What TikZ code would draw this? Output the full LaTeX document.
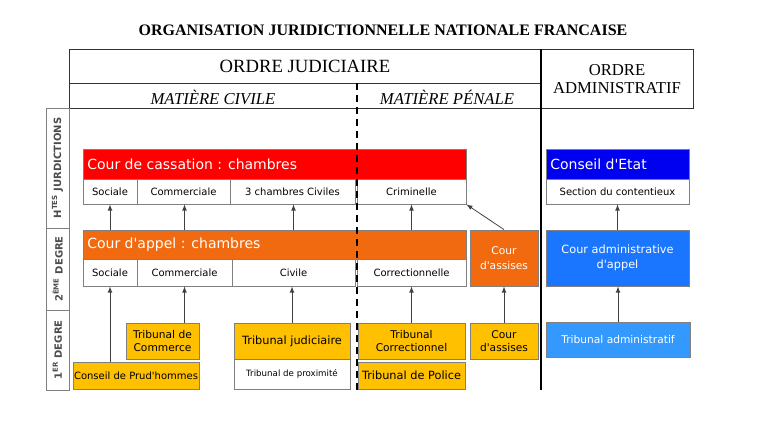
\documentclass[tikz,border=0pt]{standalone}
\usepackage{fontspec}
\setmainfont{Liberation Serif}
\newfontfamily\vf{DejaVu Sans}
\definecolor{cred}{HTML}{FF0000}
\definecolor{corg}{HTML}{F26A10}
\definecolor{cyel}{HTML}{FFC000}
\definecolor{cblu}{HTML}{0000F0}
\definecolor{cblu2}{HTML}{1A75FF}
\definecolor{cblu3}{HTML}{3399FF}
\definecolor{cgr}{HTML}{808080}
% \bxn[style]{name}{x1}{y1}{x2}{y2}{text}
\newcommand\bxn[7][]{\node[bx,#1,minimum width={(#5-#3)*0.75pt},minimum height={(#6-#4)*0.75pt}] (#2) at ({(#3+#5)/2},{(#4+#6)/2}) {#7};}
\begin{document}
\begin{tikzpicture}[x=0.75pt,y=-0.75pt,
  bx/.style={draw=cgr,line width=0.6pt,inner sep=0pt,font=\vf\fontsize{7.5}{9}\selectfont,align=center},
  redb/.style={fill=cred},
  orgb/.style={fill=corg,text=white},
  yelb/.style={fill=cyel,text=black},
  head/.style={font=\vf\fontsize{10.5}{12}\selectfont,text=white,anchor=west},
  arr/.style={draw=black!75,line width=0.6pt,-latex},
  side/.style={font=\vf\bfseries\fontsize{7.5}{9}\selectfont,text=black!70,rotate=90}]
\useasboundingbox (0,0) rectangle (768,433);
\node[font=\bfseries\fontsize{12}{14}\selectfont] (title) at (383,30) {ORGANISATION JURIDICTIONNELLE NATIONALE FRANCAISE};
% header
\draw[black!80,line width=0.6pt] (69,49) rectangle (693,108);
\draw[black!80,line width=0.6pt] (69,83) -- (541,83);
\draw[line width=1.6pt] (541,49) -- (541,390);
\draw[black!80,line width=0.6pt] (69,49) -- (69,390);
\node[font=\fontsize{14}{16}\selectfont] (oj) at (305,66) {ORDRE JUDICIAIRE};
\node[font=\itshape\fontsize{12.5}{14}\selectfont] (mc) at (213,97) {MATIÈRE CIVILE};
\node[font=\itshape\fontsize{12.5}{14}\selectfont] (mp) at (447,97) {MATIÈRE PÉNALE};
\node[font=\fontsize{12.5}{14}\selectfont,align=center] (oa) at (617,79) {ORDRE\\ADMINISTRATIF};
% side column
\draw[cgr,line width=0.6pt] (46,108) rectangle (69,390);
\draw[cgr,line width=0.6pt] (46,228) -- (69,228) (46,310) -- (69,310);
\node[side] (s1) at (57.5,168) {H\textsuperscript{TES} JURDICTIONS};
\node[side] (s2) at (57.5,269) {2\textsuperscript{ÈME} DEGRE};
\node[side] (s3) at (57.5,350) {1\textsuperscript{ER} DEGRE};
% cassation
\bxn[redb]{cass}{83}{149}{466}{179}{}
\node[head] at (cass.west) {Cour de cassation : chambres};
\bxn{socC}{83}{179}{137}{204}{Sociale}
\bxn{comC}{137}{179}{230}{204}{Commerciale}
\bxn{civC}{230}{179}{355}{204}{3 chambres Civiles}
\bxn{crimC}{357}{179}{466}{204}{Criminelle}
% conseil d'etat
\bxn[fill=cblu]{ce}{546}{149}{689}{179}{}
\node[head] at (ce.west) {Conseil d'Etat};
\bxn{sect}{546}{179}{689}{204}{Section du contentieux}
% appel
\bxn[orgb]{app}{83}{230}{466}{259}{}
\node[head] at (app.west) {Cour d'appel : chambres};
\bxn{socA}{83}{259}{137}{286}{Sociale}
\bxn{comA}{137}{259}{232}{286}{Commerciale}
\bxn{civA}{232}{259}{355}{286}{Civile}
\bxn{corA}{357}{259}{466}{286}{Correctionnelle}
\bxn[orgb,font=\vf\fontsize{8}{11}\selectfont]{assA}{470}{230}{538}{286}{Cour\\d'assises}
\bxn[fill=cblu2,text=white,font=\vf\fontsize{8.5}{11}\selectfont]{caa}{546}{230}{689}{286}{Cour administrative\\d'appel}
% first degree
\bxn[yelb,font=\vf\fontsize{8}{10}\selectfont]{tcom}{126}{323}{199}{359}{Tribunal de\\Commerce}
\bxn[yelb,font=\vf\fontsize{8.5}{10}\selectfont]{tj}{234}{323}{350}{359}{Tribunal judiciaire}
\bxn[font=\vf\fontsize{6.5}{8}\selectfont]{tp}{234}{359}{350}{389}{Tribunal de proximité}
\bxn[yelb,font=\vf\fontsize{7.5}{9}\selectfont]{cph}{73}{362}{199}{389}{Conseil de Prud'hommes}
\bxn[yelb,font=\vf\fontsize{8}{10}\selectfont]{tcor}{358}{323}{465}{359}{Tribunal\\Correctionnel}
\bxn[yelb,font=\vf\fontsize{8.5}{9}\selectfont]{tpol}{358}{362}{465}{389}{Tribunal de Police}
\bxn[yelb,font=\vf\fontsize{8}{10}\selectfont]{ass1}{470}{323}{538}{359}{Cour\\d'assises}
\bxn[fill=cblu3,text=white,font=\vf\fontsize{8}{9}\selectfont]{ta}{546}{322}{690}{357}{Tribunal administratif}
\draw[line width=1.2pt,dash pattern=on 5pt off 4pt] (357,83) -- (357,390);
% arrows
\draw[arr] (socA.south |- app.north) -- (socC.south);
\draw[arr] (comA.south |- app.north) -- (comA.south |- comC.south);
\draw[arr] (civA.south |- app.north) -- (civA.south |- civC.south);
\draw[arr] (corA.south |- app.north) -- (crimC.south);
\draw[arr] (assA.north) -- (crimC.south east);
\draw[arr] (caa.north) -- (sect.south);
\draw[arr] (socA.south |- cph.north) -- (socA.south);
\draw[arr] (comA.south |- tcom.north) -- (comA.south);
\draw[arr] (tj.north) -- (tj.north |- civA.south);
\draw[arr] (tcor.north) -- (tcor.north |- corA.south);
\draw[arr] (ass1.north) -- (assA.south);
\draw[arr] (ta.north) -- (ta.north |- caa.south);
\end{tikzpicture}
\end{document}
